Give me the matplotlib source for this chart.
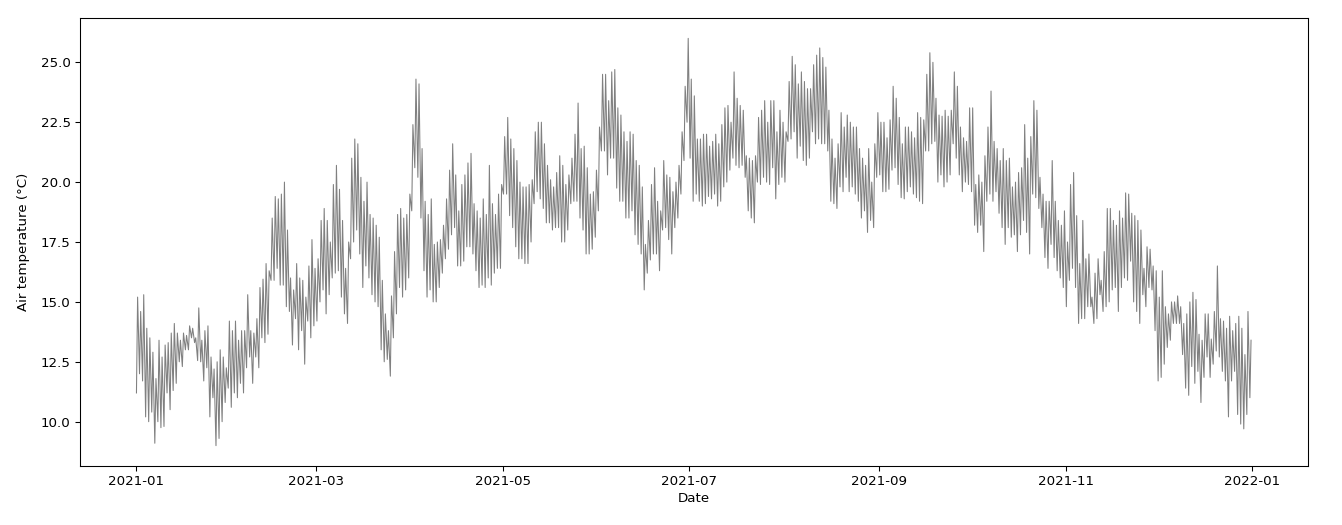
import numpy as np
import matplotlib
matplotlib.use("Agg")
import matplotlib.pyplot as plt
import matplotlib.dates as mdates

plt.rcParams['font.family'] = ['DejaVu Sans']

# Daily maximum / minimum air temperature (deg C), by month
tmax_jan = [15.2,14.6,15.3,13.9,13.5,12.9,11.8,13.4,12.7,13.2,13.3,13.7,14.1,13.7,13.4,13.7,13.6,14.0,13.9,13.5,14.75,13.4,13.8,14.0,12.7,12.2,12.5,13.0,12.7,12.25,14.2]
tmin_jan = [11.2,12.0,11.7,10.2,10.0,10.4,9.1,10.0,9.75,9.8,11.2,10.5,11.3,11.6,12.5,12.3,13.0,13.0,13.5,13.3,12.55,12.5,11.7,12.25,10.2,11.0,9.0,9.3,10.0,10.8,11.4]
tmax_feb = [13.8,14.2,13.4,13.8,13.8,15.3,13.8,13.7,14.3,15.6,15.95,16.6,16.3,18.5,19.4,19.3,19.5,20.0,18.0,16.0,15.5,16.6,16.0,15.9,15.2,16.5,17.6,16.4]
tmin_feb = [10.6,11.2,11.0,11.6,11.2,12.25,12.7,11.6,12.7,12.25,13.5,13.3,13.65,15.9,15.9,16.4,15.7,15.7,14.8,14.6,13.2,14.3,13.0,13.8,12.4,14.2,13.5,14.0]
tmax_mar = [16.8,18.4,18.9,18.4,17.5,19.9,20.7,19.7,18.4,16.4,17.5,21.0,21.8,21.6,20.2,19.2,20.0,18.65,18.5,18.2,17.7,15.9,14.5,13.8,15.25,17.1,18.65,18.9,18.5,18.65,19.5]
tmin_mar = [14.2,15.0,15.5,14.5,15.3,16.0,16.2,16.3,15.2,14.5,14.1,16.8,17.5,18.0,17.0,15.6,16.5,16.0,15.3,15.0,14.8,13.0,12.5,12.6,11.9,13.5,14.5,15.6,15.2,15.5,16.0]
tmax_apr = [22.4,24.3,24.1,21.4,19.2,18.65,19.3,17.4,17.5,17.6,18.2,19.3,20.5,21.6,20.3,18.8,19.9,20.3,20.8,21.2,19.1,18.8,18.5,19.3,18.65,20.7,19.1,18.65,19.5,19.9]
tmin_apr = [18.8,20.6,20.2,18.5,16.3,15.2,15.5,15.0,15.0,15.6,16.2,16.8,17.2,17.8,18.1,16.5,16.5,16.7,17.3,17.3,17.0,16.3,15.6,15.7,15.6,16.0,15.7,16.2,16.4,16.4]
tmax_may = [21.9,22.7,21.8,21.4,20.9,20.0,19.8,19.8,19.9,20.1,22.1,22.5,22.5,21.6,20.7,20.1,19.8,20.4,21.1,20.7,19.9,20.3,21.0,22.0,23.3,21.4,21.5,20.6,19.5,19.6,20.5]
tmin_may = [19.5,19.5,18.6,18.1,17.3,16.8,16.8,16.6,16.6,17.5,19.1,19.6,19.3,18.9,18.3,18.3,18.0,18.1,18.1,17.5,17.5,18.0,19.1,19.2,19.2,18.5,18.0,17.0,17.0,17.2,17.7]
tmax_jun = [22.3,24.5,24.5,23.4,24.6,24.7,23.1,22.8,22.1,21.7,22.1,22.0,20.9,20.7,19.8,17.4,18.4,19.9,20.6,19.2,18.8,20.9,20.3,20.2,19.6,20.0,20.7,22.1,24.0,26.0]
tmin_jun = [18.8,21.3,21.3,20.3,21.0,21.0,19.75,19.2,19.2,18.5,18.5,18.8,17.8,17.4,17.0,15.5,16.2,16.75,17.0,17.0,16.3,18.0,18.1,17.6,17.0,18.1,18.5,19.5,20.9,22.5]
tmax_jul = [24.3,23.6,21.8,21.8,22.0,22.0,21.5,21.7,22.0,21.6,22.4,23.1,23.2,22.5,24.6,23.5,23.2,23.0,21.1,21.0,20.9,21.1,22.7,23.0,23.4,22.5,23.4,23.4,22.1,23.0,22.5]
tmin_jul = [21.0,19.2,19.5,19.2,19.0,19.1,19.4,19.3,19.5,19.0,19.2,19.8,20.0,20.5,21.0,20.7,20.6,20.7,20.2,18.8,18.5,18.3,20.0,19.9,20.2,20.0,19.9,20.6,19.3,19.9,20.2]
tmax_aug = [22.1,24.2,25.25,24.9,24.1,24.6,24.2,23.9,23.9,24.9,25.3,25.6,25.2,24.8,23.0,21.8,21.0,21.6,22.9,22.3,22.8,22.5,22.3,22.3,21.4,21.0,20.7,21.4,20.0,21.6,22.9]
tmin_aug = [20.0,21.7,21.8,22.1,21.0,21.5,20.9,20.7,21.0,22.1,21.6,21.8,21.6,21.6,21.3,19.2,19.1,18.9,19.8,19.6,20.2,19.6,19.8,19.5,19.2,18.5,18.8,17.9,18.4,18.1,20.2]
tmax_sep = [22.5,22.5,21.85,22.6,24.0,23.5,22.7,21.6,22.3,22.3,22.1,21.85,22.9,22.7,22.6,24.5,25.4,25.0,23.5,22.8,22.75,23.0,22.75,23.0,24.6,24.0,22.3,21.85,21.7,23.1]
tmin_sep = [20.3,19.6,19.6,19.7,20.5,20.6,19.9,19.35,19.3,19.6,19.8,19.5,19.35,19.2,19.1,21.3,21.3,21.6,21.7,20.0,20.3,19.8,20.0,20.3,21.6,21.0,20.3,19.6,20.0,19.9]
tmax_oct = [23.1,19.9,20.3,20.0,21.1,22.3,23.8,21.7,21.4,20.9,21.4,20.9,21.0,19.8,20.0,20.4,20.6,22.4,21.0,21.9,23.4,23.0,20.2,19.5,19.2,19.2,20.9,19.2,18.4,18.2,18.8]
tmin_oct = [19.6,18.2,17.9,18.2,17.1,19.2,19.5,19.2,19.6,18.7,18.1,17.4,18.1,17.7,17.8,17.1,17.8,18.4,17.9,17.0,19.5,19.35,18.9,18.1,16.85,16.4,17.4,16.85,16.3,16.0,15.6]
tmax_nov = [17.5,19.9,20.4,18.6,16.6,18.4,16.8,17.0,15.2,16.2,16.8,15.9,17.1,18.9,18.9,18.4,18.2,18.8,18.5,19.55,19.5,18.7,18.6,18.4,18.0,16.4,17.3,17.2,16.5,16.3]
tmin_nov = [14.8,15.9,16.4,15.6,14.1,14.3,14.3,14.8,14.8,14.1,14.3,15.3,14.6,14.8,15.0,15.5,15.6,14.6,15.6,16.0,15.9,16.7,15.0,14.6,14.1,15.3,14.8,15.6,15.5,13.8]
tmax_dec = [15.2,16.3,14.8,14.5,15.0,15.0,15.25,14.8,14.1,14.5,15.0,15.4,15.1,13.65,13.4,14.5,14.5,13.45,14.6,16.5,14.3,14.2,13.9,14.4,13.8,14.1,14.4,13.9,12.8,14.6,13.4]
tmin_dec = [11.7,11.85,12.4,13.1,13.4,14.1,14.1,14.1,12.8,11.4,11.1,12.3,11.6,12.1,10.8,11.85,12.7,11.85,12.4,12.95,12.7,12.1,11.7,10.2,11.7,12.1,10.3,9.9,9.7,10.3,11.0]

tmax = np.array(tmax_jan + tmax_feb + tmax_mar + tmax_apr + tmax_may + tmax_jun +
                tmax_jul + tmax_aug + tmax_sep + tmax_oct + tmax_nov + tmax_dec)
tmin = np.array(tmin_jan + tmin_feb + tmin_mar + tmin_apr + tmin_may + tmin_jun +
                tmin_jul + tmin_aug + tmin_sep + tmin_oct + tmin_nov + tmin_dec)

days = np.arange('2021-01-01', '2022-01-01', dtype='datetime64[D]')
t_min = days.astype('datetime64[h]') + np.timedelta64(5, 'h')
t_max = days.astype('datetime64[h]') + np.timedelta64(14, 'h')

times = np.empty(2 * len(days), dtype='datetime64[h]')
times[0::2] = t_min
times[1::2] = t_max
temps = np.empty(2 * len(days))
temps[0::2] = tmin
temps[1::2] = tmax

W, H, DPI = 1342, 525, 96
fig = plt.figure(figsize=(W / DPI, H / DPI), dpi=DPI)
ax = fig.add_axes([80 / W, 1 - 466 / H, (1308 - 80) / W, (466 - 18) / H])
ax.plot(times.astype('datetime64[s]').astype(object), temps, color='grey', linewidth=0.8)

start = np.datetime64('2021-01-01T00:00')
end = np.datetime64('2021-12-31T23:00')
span = end - start
pad = span * 0.05
ax.set_xlim((start - pad).astype(object), (end + pad).astype(object))

ax.xaxis.set_major_locator(mdates.MonthLocator(bymonth=[1, 3, 5, 7, 9, 11]))
ax.xaxis.set_major_formatter(mdates.DateFormatter('%Y-%m'))
ax.set_yticks([10.0, 12.5, 15.0, 17.5, 20.0, 22.5, 25.0])
ax.yaxis.set_major_formatter(matplotlib.ticker.FormatStrFormatter('%.1f'))
ax.tick_params(labelsize=10)
ax.set_xlabel('Date', fontsize=10)
ax.set_ylabel('Air temperature (°C)', fontsize=10)
ax.xaxis.set_label_coords(0.5, -0.058)
ax.yaxis.set_label_coords(-0.041, 0.5)

fig.savefig('out.png', dpi=DPI)
